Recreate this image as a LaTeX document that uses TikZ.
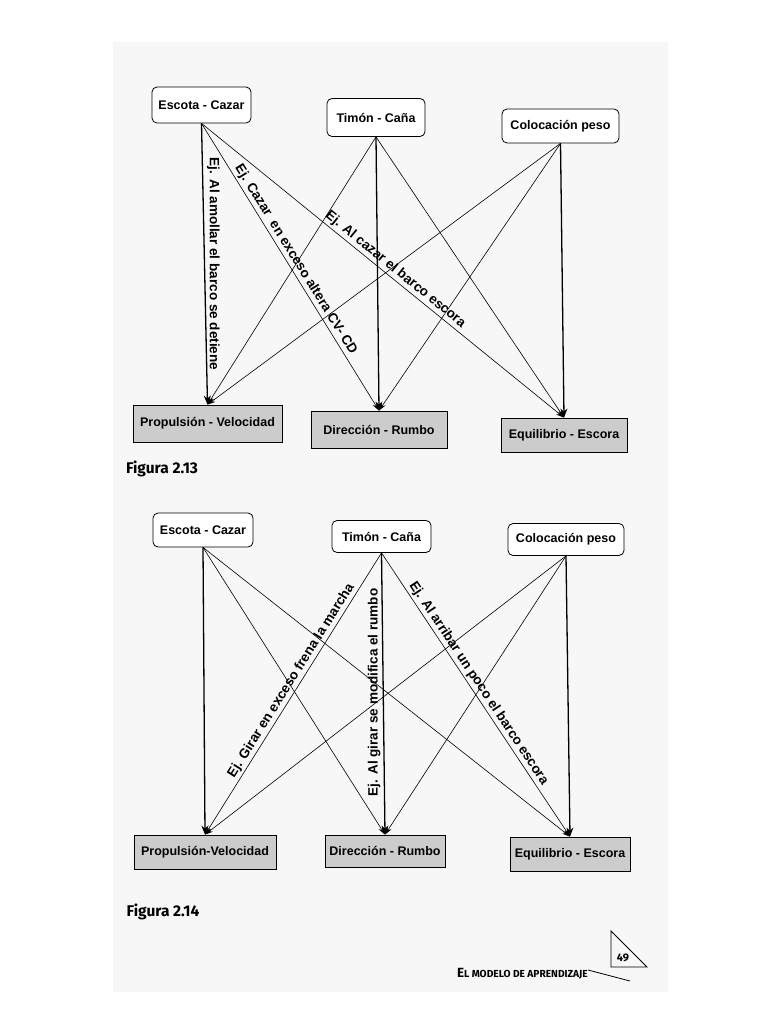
\documentclass[tikz,border=0pt]{standalone}
\usepackage{fontspec}
\setmainfont{Liberation Sans}
\newfontfamily\capfont{Fira Sans}
\usetikzlibrary{arrows.meta,shadows}

\tikzstyle{source} = [rectangle, rounded corners=5pt, draw, line width=0.8pt, fill=white, text centered, font=\fontsize{12.5}{14}\selectfont\bfseries, inner sep=2pt]
\tikzstyle{target} = [rectangle, draw, line width=0.8pt, fill=black!20, drop shadow={shadow xshift=1.2pt, shadow yshift=-1.2pt, fill=black!75, opacity=1}, text centered, font=\fontsize{12.5}{14}\selectfont\bfseries, inner sep=2pt]
\tikzstyle{mainarrow} = [draw, line width=1.3pt, -{Stealth[length=9pt,width=7pt]}]
\tikzstyle{sidearrow} = [draw, line width=0.6pt, -{Stealth[length=8pt,width=5pt]}]
\tikzstyle{note} = [font=\fontsize{13.5}{15}\selectfont\bfseries, inner sep=2pt]
\tikzstyle{caption} = [font=\capfont\bfseries\fontsize{15.5}{17}\selectfont, inner sep=0pt]

\begin{document}
\begin{tikzpicture}[x=1pt, y=-1pt]
        \useasboundingbox (0,0) rectangle (768,1024);
        \fill[black!3] (113,42) rectangle (668,992);

        % figura 2.13
        \node[source, minimum width=99pt, minimum height=36pt] (esc1) at (201.5,105) {Escota - Cazar};
        \node[source, minimum width=98pt, minimum height=38pt] (tim1) at (376,117.5) {Timón - Caña};
        \node[source, minimum width=117pt, minimum height=34pt] (col1) at (560.5,126) {Colocación peso};
        \node[target, minimum width=149pt, minimum height=37pt] (prop1) at (207.5,423.5) {Propulsión - Velocidad};
        \node[target, minimum width=136pt, minimum height=37pt] (dir1) at (379,429.5) {Dirección - Rumbo};
        \node[target, minimum width=126pt, minimum height=34pt] (equ1) at (564,435) {Equilibrio - Escora};

        \draw[mainarrow] (esc1.south) -- node[note, pos=0.5, rotate=-90, anchor=south] {Ej. Al amollar el barco se detiene} (prop1.north);
        \draw[sidearrow] (esc1.south) -- node[note, pos=0.49, sloped, above] {Ej. Cazar\ \ en exceso altera CV- CD} (dir1.north);
        \draw[sidearrow] (esc1.south) -- node[note, pos=0.52, sloped, above] {Ej. Al cazar el barco escora} (equ1.north);
        \draw[sidearrow] (tim1.south) -- (prop1.north);
        \draw[mainarrow] (tim1.south) -- (dir1.north);
        \draw[sidearrow] (tim1.south) -- (equ1.north);
        \draw[sidearrow] (col1.south) -- (prop1.north);
        \draw[sidearrow] (col1.south) -- (dir1.north);
        \draw[mainarrow] (col1.south) -- (equ1.north);

        \node[caption] (fig1) at (162,469) {Figura 2.13};

        % figura 2.14
        \node[source, minimum width=100pt, minimum height=34pt] (esc2) at (203,530) {Escota - Cazar};
        \node[source, minimum width=99pt, minimum height=32pt] (tim2) at (381.5,536.5) {Timón - Caña};
        \node[source, minimum width=116pt, minimum height=32pt] (col2) at (566,539.5) {Colocación peso};
        \node[target, minimum width=142pt, minimum height=34pt] (prop2) at (205,852) {Propulsión-Velocidad};
        \node[target, minimum width=120pt, minimum height=32pt] (dir2) at (385,851) {Dirección - Rumbo};
        \node[target, minimum width=120pt, minimum height=34pt] (equ2) at (570,854) {Equilibrio - Escora};

        \draw[mainarrow] (esc2.south) -- (prop2.north);
        \draw[sidearrow] (esc2.south) -- (dir2.north);
        \draw[sidearrow] (esc2.south) -- (equ2.north);
        \draw[sidearrow] (tim2.south) -- node[note, pos=0.47, sloped, above] {Ej. Girar en exceso frena la marcha} (prop2.north);
        \draw[mainarrow] (tim2.south) -- node[note, pos=0.495, rotate=90, anchor=south] {Ej. Al girar se modifica el rumbo} (dir2.north);
        \draw[sidearrow] (tim2.south) -- node[note, pos=0.477, sloped, above] {Ej. Al arribar un poco el barco escora} (equ2.north);
        \draw[sidearrow] (col2.south) -- (prop2.north);
        \draw[sidearrow] (col2.south) -- (dir2.north);
        \draw[mainarrow] (col2.south) -- (equ2.north);

        \node[caption] (fig2) at (163,912) {Figura 2.14};

        % pie de pagina
        \node[font=\capfont\bfseries, inner sep=0pt, anchor=base east] (foot) at (588,977) {{\fontsize{13.3}{14}\selectfont E}{\fontsize{10.2}{11}\selectfont L MODELO DE APRENDIZAJE}};
        \coordinate (tri1) at (611,931);
        \coordinate (tri2) at (611,967);
        \coordinate (tri3) at (647,967);
        \draw[line width=0.8pt] (tri1) -- (tri2) -- (tri3) -- cycle;
        \coordinate (ul1) at (588,970);
        \coordinate (ul2) at (630,981);
        \draw[line width=0.8pt] (ul1) -- (ul2);
        \node[font=\capfont\bfseries\fontsize{11}{12}\selectfont, inner sep=0pt] (page) at (623,958) {49};
\end{tikzpicture}
\end{document}
